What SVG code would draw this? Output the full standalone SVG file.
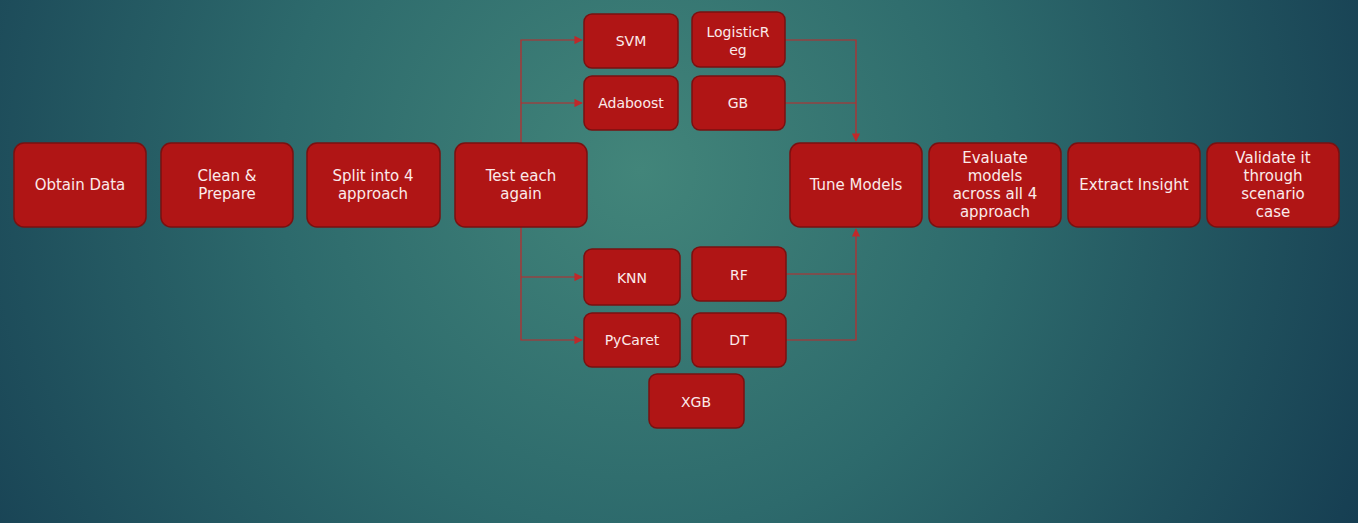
<svg xmlns="http://www.w3.org/2000/svg" width="1358" height="523" viewBox="0 0 1358 523">
<defs>
<radialGradient id="bg" cx="640" cy="170" r="800" gradientUnits="userSpaceOnUse">
<stop offset="0" stop-color="#42857a"/>
<stop offset="0.45" stop-color="#2d6a6c"/>
<stop offset="1" stop-color="#163e52"/>
</radialGradient>
<marker id="ah" viewBox="0 0 10 10" refX="9" refY="5" markerWidth="7" markerHeight="7" orient="auto"><path d="M0,0L10,5L0,10z" fill="#c0282a"/></marker>
<style>
.n{fill:#b01515;stroke:#7a1010;stroke-width:1.5}
.t{font-family:"DejaVu Sans",sans-serif;font-size:15px;fill:#fbeaea;text-anchor:middle}
.s{font-size:14px}
.c{fill:none;stroke:#c0282a;stroke-width:1.2}
</style>
</defs>
<rect width="1358" height="523" fill="url(#bg)"/>
<g id="connectors">
<path class="c" d="M521,143V40H582" marker-end="url(#ah)"/>
<path class="c" d="M521,103H582" marker-end="url(#ah)"/>
<path class="c" d="M521,227V340H582" marker-end="url(#ah)"/>
<path class="c" d="M521,277H582" marker-end="url(#ah)"/>
<path class="c" d="M785,40H856V141" marker-end="url(#ah)"/>
<path class="c" d="M785,103H856"/>
<path class="c" d="M786,340H856V229" marker-end="url(#ah)"/>
<path class="c" d="M786,274H856"/>
</g>
<g id="obtain"><rect class="n" x="14" y="143" width="132" height="84" rx="10"/><text class="t" x="80" y="190">Obtain Data</text></g>
<g id="clean"><rect class="n" x="161" y="143" width="132" height="84" rx="10"/><text class="t" x="227" y="181">Clean &amp;</text><text class="t" x="227" y="199">Prepare</text></g>
<g id="split"><rect class="n" x="307" y="143" width="133" height="84" rx="10"/><text class="t" x="373" y="181">Split into 4</text><text class="t" x="373" y="199">approach</text></g>
<g id="test"><rect class="n" x="455" y="143" width="132" height="84" rx="10"/><text class="t" x="521" y="181">Test each</text><text class="t" x="521" y="199">again</text></g>
<g id="svm"><rect class="n" x="584" y="14" width="94" height="54" rx="8"/><text class="t s" x="631" y="46">SVM</text></g>
<g id="logreg"><rect class="n" x="692" y="12" width="93" height="55" rx="8"/><text class="t s" x="738" y="37">LogisticR</text><text class="t s" x="738" y="55">eg</text></g>
<g id="adaboost"><rect class="n" x="584" y="76" width="94" height="54" rx="8"/><text class="t s" x="631" y="108">Adaboost</text></g>
<g id="gb"><rect class="n" x="692" y="76" width="93" height="54" rx="8"/><text class="t s" x="738" y="108">GB</text></g>
<g id="knn"><rect class="n" x="584" y="249" width="96" height="56" rx="8"/><text class="t s" x="632" y="283">KNN</text></g>
<g id="rf"><rect class="n" x="692" y="247" width="94" height="54" rx="8"/><text class="t s" x="739" y="280">RF</text></g>
<g id="pycaret"><rect class="n" x="584" y="313" width="96" height="54" rx="8"/><text class="t s" x="632" y="345">PyCaret</text></g>
<g id="dt"><rect class="n" x="692" y="313" width="94" height="54" rx="8"/><text class="t s" x="739" y="345">DT</text></g>
<g id="xgb"><rect class="n" x="649" y="374" width="95" height="54" rx="8"/><text class="t s" x="696" y="407">XGB</text></g>
<g id="tune"><rect class="n" x="790" y="143" width="132" height="84" rx="10"/><text class="t" x="856" y="190">Tune Models</text></g>
<g id="evaluate"><rect class="n" x="929" y="143" width="132" height="84" rx="10"/><text class="t" x="995" y="163">Evaluate</text><text class="t" x="995" y="181">models</text><text class="t" x="995" y="199">across all 4</text><text class="t" x="995" y="217">approach</text></g>
<g id="extract"><rect class="n" x="1068" y="143" width="132" height="84" rx="10"/><text class="t" x="1134" y="190">Extract Insight</text></g>
<g id="validate"><rect class="n" x="1207" y="143" width="132" height="84" rx="10"/><text class="t" x="1273" y="163">Validate it</text><text class="t" x="1273" y="181">through</text><text class="t" x="1273" y="199">scenario</text><text class="t" x="1273" y="217">case</text></g>
</svg>
